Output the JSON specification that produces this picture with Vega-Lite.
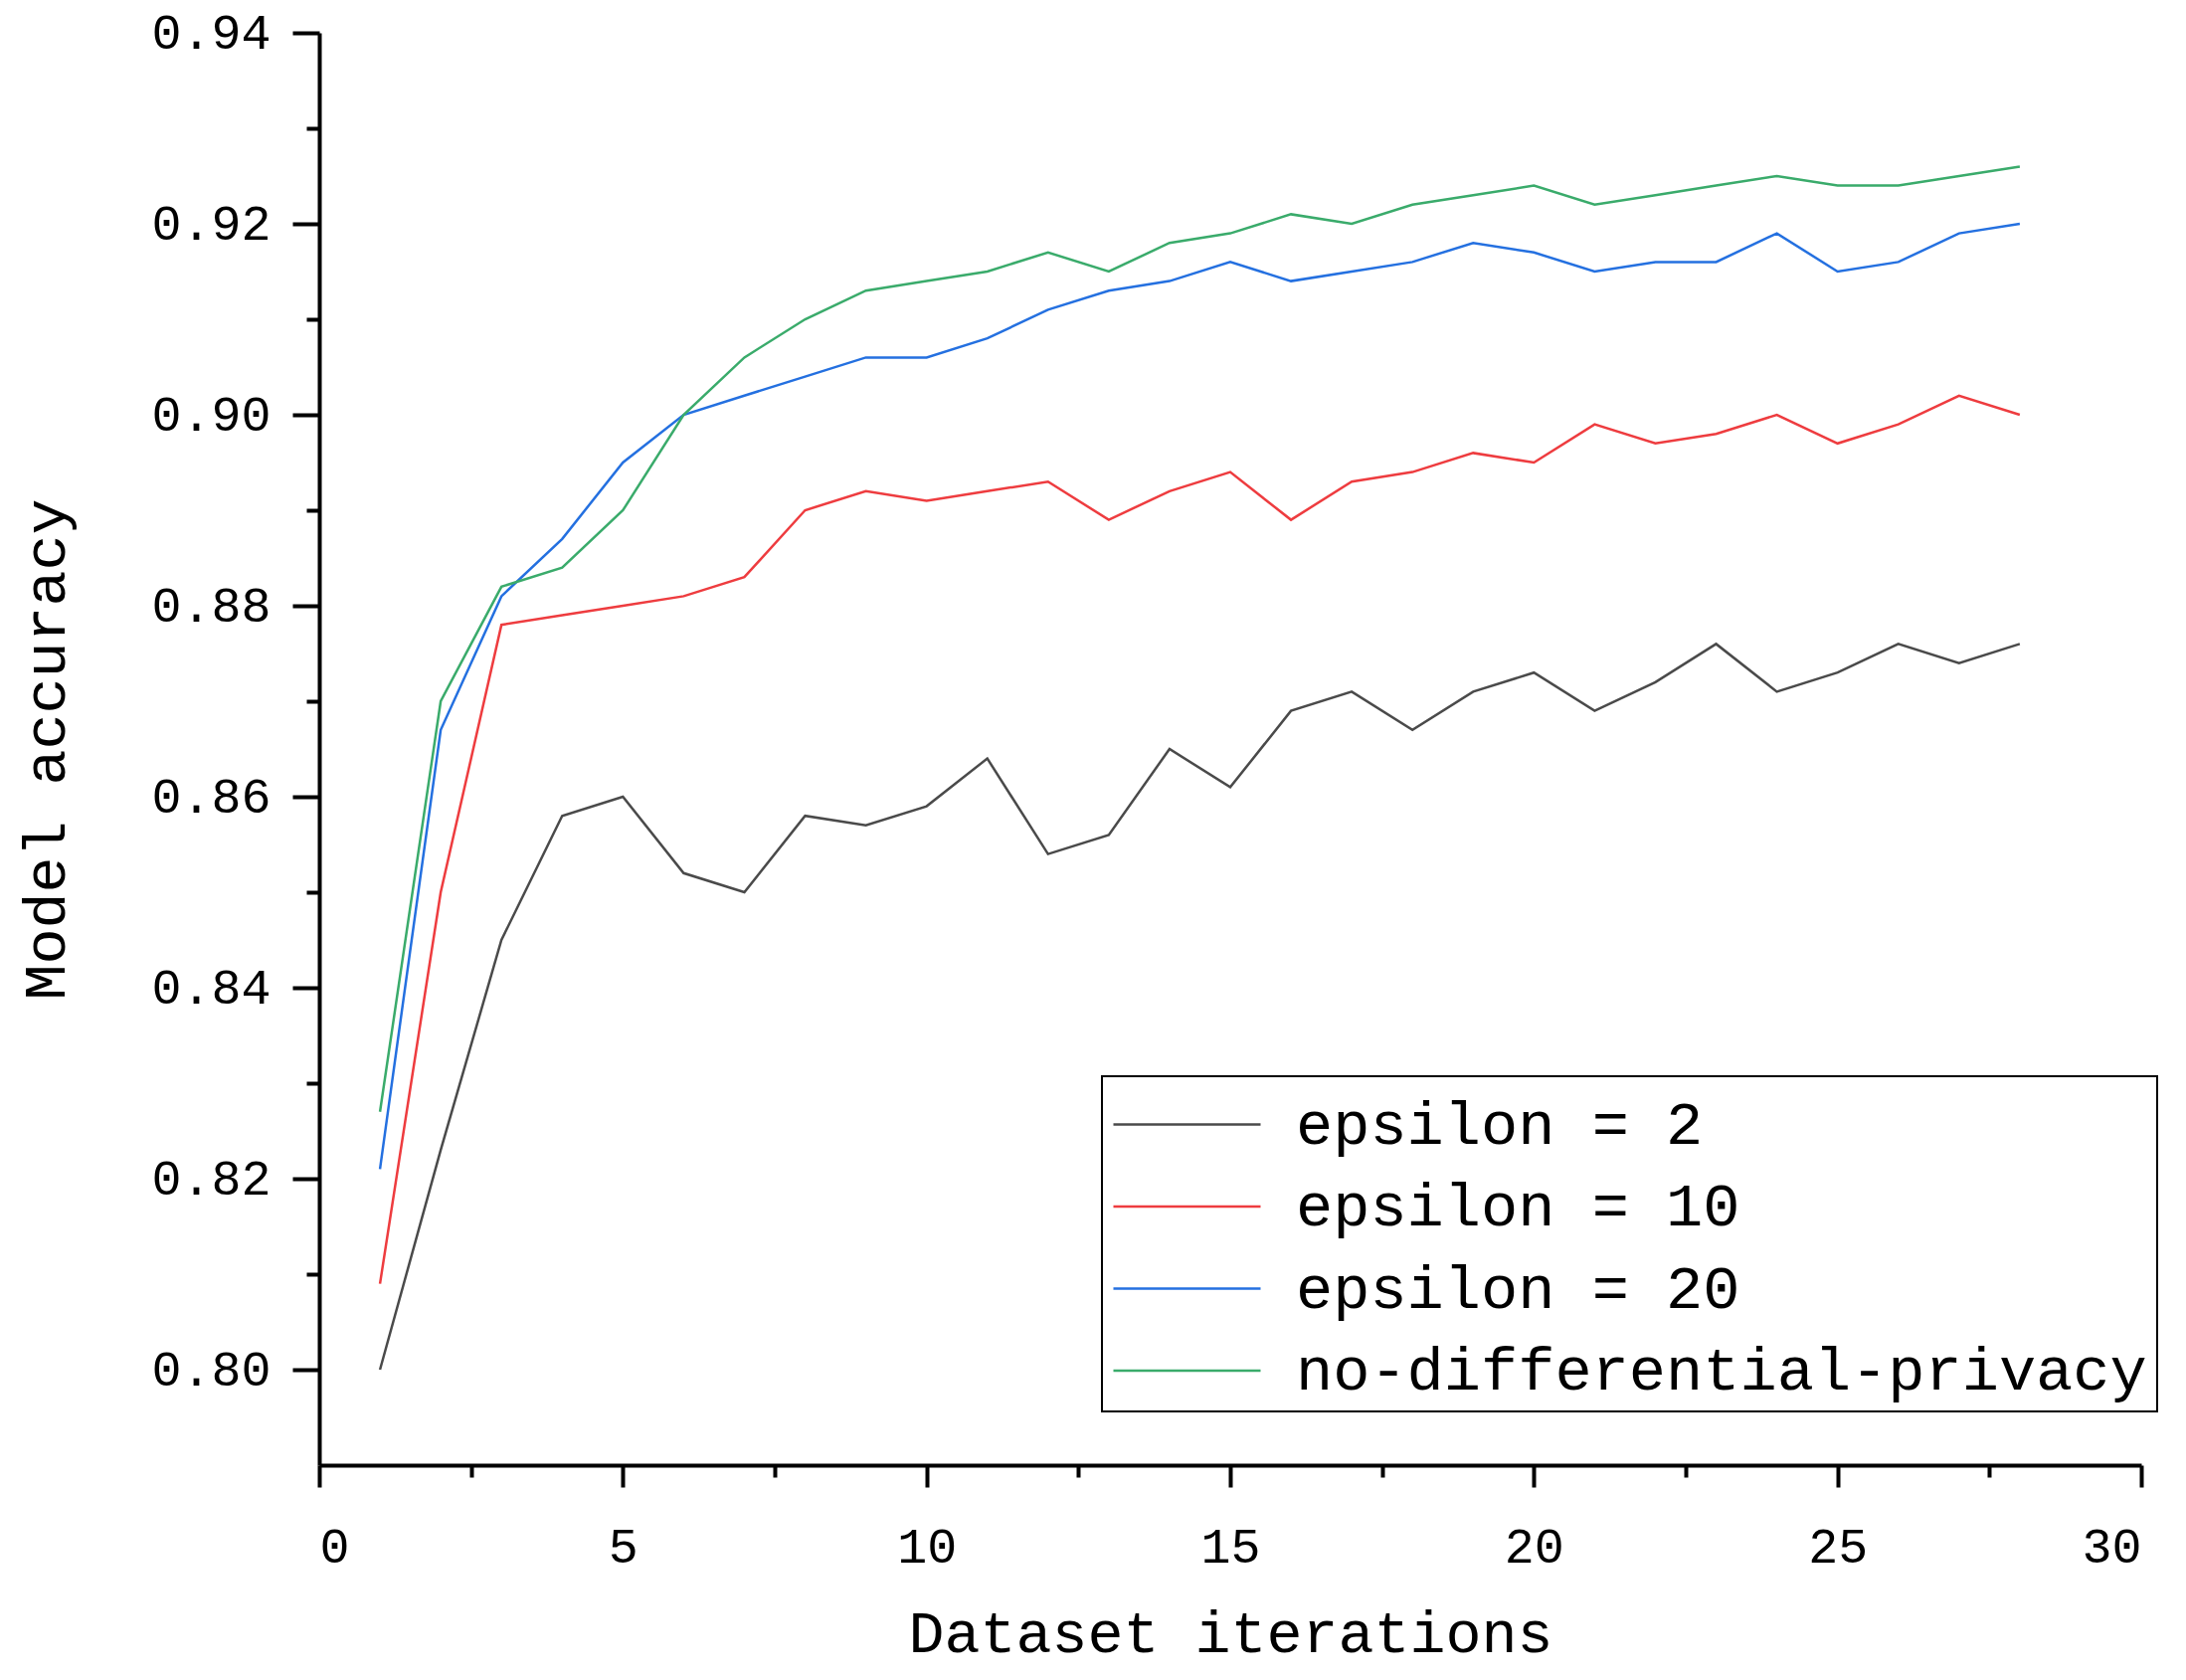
{
  "$schema": "https://vega.github.io/schema/vega-lite/v6.json",
  "width": 1832,
  "height": 1440,
  "padding": {"left": 16, "top": 8, "right": 0, "bottom": 0},
  "background": "white",
  "data": {
    "values": [
      {"iter": 1, "series": "epsilon = 2", "acc": 0.800},
      {"iter": 2, "series": "epsilon = 2", "acc": 0.823},
      {"iter": 3, "series": "epsilon = 2", "acc": 0.845},
      {"iter": 4, "series": "epsilon = 2", "acc": 0.858},
      {"iter": 5, "series": "epsilon = 2", "acc": 0.860},
      {"iter": 6, "series": "epsilon = 2", "acc": 0.852},
      {"iter": 7, "series": "epsilon = 2", "acc": 0.850},
      {"iter": 8, "series": "epsilon = 2", "acc": 0.858},
      {"iter": 9, "series": "epsilon = 2", "acc": 0.857},
      {"iter": 10, "series": "epsilon = 2", "acc": 0.859},
      {"iter": 11, "series": "epsilon = 2", "acc": 0.864},
      {"iter": 12, "series": "epsilon = 2", "acc": 0.854},
      {"iter": 13, "series": "epsilon = 2", "acc": 0.856},
      {"iter": 14, "series": "epsilon = 2", "acc": 0.865},
      {"iter": 15, "series": "epsilon = 2", "acc": 0.861},
      {"iter": 16, "series": "epsilon = 2", "acc": 0.869},
      {"iter": 17, "series": "epsilon = 2", "acc": 0.871},
      {"iter": 18, "series": "epsilon = 2", "acc": 0.867},
      {"iter": 19, "series": "epsilon = 2", "acc": 0.871},
      {"iter": 20, "series": "epsilon = 2", "acc": 0.873},
      {"iter": 21, "series": "epsilon = 2", "acc": 0.869},
      {"iter": 22, "series": "epsilon = 2", "acc": 0.872},
      {"iter": 23, "series": "epsilon = 2", "acc": 0.876},
      {"iter": 24, "series": "epsilon = 2", "acc": 0.871},
      {"iter": 25, "series": "epsilon = 2", "acc": 0.873},
      {"iter": 26, "series": "epsilon = 2", "acc": 0.876},
      {"iter": 27, "series": "epsilon = 2", "acc": 0.874},
      {"iter": 28, "series": "epsilon = 2", "acc": 0.876},
      {"iter": 1, "series": "epsilon = 10", "acc": 0.809},
      {"iter": 2, "series": "epsilon = 10", "acc": 0.850},
      {"iter": 3, "series": "epsilon = 10", "acc": 0.878},
      {"iter": 4, "series": "epsilon = 10", "acc": 0.879},
      {"iter": 5, "series": "epsilon = 10", "acc": 0.880},
      {"iter": 6, "series": "epsilon = 10", "acc": 0.881},
      {"iter": 7, "series": "epsilon = 10", "acc": 0.883},
      {"iter": 8, "series": "epsilon = 10", "acc": 0.890},
      {"iter": 9, "series": "epsilon = 10", "acc": 0.892},
      {"iter": 10, "series": "epsilon = 10", "acc": 0.891},
      {"iter": 11, "series": "epsilon = 10", "acc": 0.892},
      {"iter": 12, "series": "epsilon = 10", "acc": 0.893},
      {"iter": 13, "series": "epsilon = 10", "acc": 0.889},
      {"iter": 14, "series": "epsilon = 10", "acc": 0.892},
      {"iter": 15, "series": "epsilon = 10", "acc": 0.894},
      {"iter": 16, "series": "epsilon = 10", "acc": 0.889},
      {"iter": 17, "series": "epsilon = 10", "acc": 0.893},
      {"iter": 18, "series": "epsilon = 10", "acc": 0.894},
      {"iter": 19, "series": "epsilon = 10", "acc": 0.896},
      {"iter": 20, "series": "epsilon = 10", "acc": 0.895},
      {"iter": 21, "series": "epsilon = 10", "acc": 0.899},
      {"iter": 22, "series": "epsilon = 10", "acc": 0.897},
      {"iter": 23, "series": "epsilon = 10", "acc": 0.898},
      {"iter": 24, "series": "epsilon = 10", "acc": 0.900},
      {"iter": 25, "series": "epsilon = 10", "acc": 0.897},
      {"iter": 26, "series": "epsilon = 10", "acc": 0.899},
      {"iter": 27, "series": "epsilon = 10", "acc": 0.902},
      {"iter": 28, "series": "epsilon = 10", "acc": 0.900},
      {"iter": 1, "series": "epsilon = 20", "acc": 0.821},
      {"iter": 2, "series": "epsilon = 20", "acc": 0.867},
      {"iter": 3, "series": "epsilon = 20", "acc": 0.881},
      {"iter": 4, "series": "epsilon = 20", "acc": 0.887},
      {"iter": 5, "series": "epsilon = 20", "acc": 0.895},
      {"iter": 6, "series": "epsilon = 20", "acc": 0.900},
      {"iter": 7, "series": "epsilon = 20", "acc": 0.902},
      {"iter": 8, "series": "epsilon = 20", "acc": 0.904},
      {"iter": 9, "series": "epsilon = 20", "acc": 0.906},
      {"iter": 10, "series": "epsilon = 20", "acc": 0.906},
      {"iter": 11, "series": "epsilon = 20", "acc": 0.908},
      {"iter": 12, "series": "epsilon = 20", "acc": 0.911},
      {"iter": 13, "series": "epsilon = 20", "acc": 0.913},
      {"iter": 14, "series": "epsilon = 20", "acc": 0.914},
      {"iter": 15, "series": "epsilon = 20", "acc": 0.916},
      {"iter": 16, "series": "epsilon = 20", "acc": 0.914},
      {"iter": 17, "series": "epsilon = 20", "acc": 0.915},
      {"iter": 18, "series": "epsilon = 20", "acc": 0.916},
      {"iter": 19, "series": "epsilon = 20", "acc": 0.918},
      {"iter": 20, "series": "epsilon = 20", "acc": 0.917},
      {"iter": 21, "series": "epsilon = 20", "acc": 0.915},
      {"iter": 22, "series": "epsilon = 20", "acc": 0.916},
      {"iter": 23, "series": "epsilon = 20", "acc": 0.916},
      {"iter": 24, "series": "epsilon = 20", "acc": 0.919},
      {"iter": 25, "series": "epsilon = 20", "acc": 0.915},
      {"iter": 26, "series": "epsilon = 20", "acc": 0.916},
      {"iter": 27, "series": "epsilon = 20", "acc": 0.919},
      {"iter": 28, "series": "epsilon = 20", "acc": 0.920},
      {"iter": 1, "series": "no-differential-privacy", "acc": 0.827},
      {"iter": 2, "series": "no-differential-privacy", "acc": 0.870},
      {"iter": 3, "series": "no-differential-privacy", "acc": 0.882},
      {"iter": 4, "series": "no-differential-privacy", "acc": 0.884},
      {"iter": 5, "series": "no-differential-privacy", "acc": 0.890},
      {"iter": 6, "series": "no-differential-privacy", "acc": 0.900},
      {"iter": 7, "series": "no-differential-privacy", "acc": 0.906},
      {"iter": 8, "series": "no-differential-privacy", "acc": 0.910},
      {"iter": 9, "series": "no-differential-privacy", "acc": 0.913},
      {"iter": 10, "series": "no-differential-privacy", "acc": 0.914},
      {"iter": 11, "series": "no-differential-privacy", "acc": 0.915},
      {"iter": 12, "series": "no-differential-privacy", "acc": 0.917},
      {"iter": 13, "series": "no-differential-privacy", "acc": 0.915},
      {"iter": 14, "series": "no-differential-privacy", "acc": 0.918},
      {"iter": 15, "series": "no-differential-privacy", "acc": 0.919},
      {"iter": 16, "series": "no-differential-privacy", "acc": 0.921},
      {"iter": 17, "series": "no-differential-privacy", "acc": 0.920},
      {"iter": 18, "series": "no-differential-privacy", "acc": 0.922},
      {"iter": 19, "series": "no-differential-privacy", "acc": 0.923},
      {"iter": 20, "series": "no-differential-privacy", "acc": 0.924},
      {"iter": 21, "series": "no-differential-privacy", "acc": 0.922},
      {"iter": 22, "series": "no-differential-privacy", "acc": 0.923},
      {"iter": 23, "series": "no-differential-privacy", "acc": 0.924},
      {"iter": 24, "series": "no-differential-privacy", "acc": 0.925},
      {"iter": 25, "series": "no-differential-privacy", "acc": 0.924},
      {"iter": 26, "series": "no-differential-privacy", "acc": 0.924},
      {"iter": 27, "series": "no-differential-privacy", "acc": 0.925},
      {"iter": 28, "series": "no-differential-privacy", "acc": 0.926}
    ]
  },
  "layer": [
    {
      "mark": {"type": "line", "strokeWidth": 2.5},
      "encoding": {
        "x": {
          "field": "iter",
          "type": "quantitative",
          "scale": {"domain": [0, 30], "nice": false},
          "axis": {
            "orient": "bottom",
            "values": [0, 5, 10, 15, 20, 25, 30],
            "title": "Dataset iterations",
            "tickSize": 22,
            "labelPadding": 35,
            "titlePadding": 33
          }
        },
        "y": {
          "field": "acc",
          "type": "quantitative",
          "scale": {"domain": [0.79, 0.94], "nice": false, "zero": false},
          "axis": {
            "orient": "left",
            "values": [0.80, 0.82, 0.84, 0.86, 0.88, 0.90, 0.92, 0.94],
            "format": ".2f",
            "title": "Model accuracy",
            "tickSize": 27,
            "labelPadding": 22,
            "titlePadding": 74
          }
        },
        "color": {
          "field": "series",
          "type": "nominal",
          "scale": {
            "domain": ["epsilon = 2", "epsilon = 10", "epsilon = 20", "no-differential-privacy"],
            "range": ["#4a4a4a", "#ee3c3f", "#2470e0", "#3aab6b"]
          },
          "legend": {
            "title": null,
            "orient": "none",
            "legendX": 787,
            "legendY": 1049,
            "strokeColor": "black",
            "fillColor": "white",
            "padding": 10,
            "symbolType": "M-2,0H2",
            "symbolSize": 5476,
            "symbolOffset": 37,
            "symbolStrokeWidth": 2.5,
            "labelFont": "Liberation Mono",
            "labelFontSize": 62,
            "labelColor": "black",
            "labelOffset": 71,
            "labelLimit": 2000,
            "rowPadding": 12.5
          }
        }
      }
    },
    {
      "mark": {"type": "line", "strokeOpacity": 0},
      "encoding": {
        "x": {
          "field": "iter",
          "type": "quantitative",
          "axis": {
            "orient": "bottom",
            "values": [2.5, 7.5, 12.5, 17.5, 22.5, 27.5],
            "labels": false,
            "domain": false,
            "title": null,
            "tickSize": 12
          }
        },
        "y": {
          "field": "acc",
          "type": "quantitative",
          "axis": {
            "orient": "left",
            "values": [0.81, 0.83, 0.85, 0.87, 0.89, 0.91, 0.93],
            "labels": false,
            "domain": false,
            "title": null,
            "tickSize": 13
          }
        },
        "detail": {"field": "series", "type": "nominal"}
      }
    }
  ],
  "resolve": {"axis": {"x": "independent", "y": "independent"}},
  "config": {
    "view": {"stroke": null},
    "legend": {"strokeWidth": 2},
    "axis": {
      "grid": false,
      "domainColor": "black",
      "domainWidth": 4,
      "tickColor": "black",
      "tickWidth": 4,
      "labelFont": "Liberation Mono",
      "labelFontSize": 50,
      "labelColor": "black",
      "titleFont": "Liberation Mono",
      "titleFontSize": 60,
      "titleFontWeight": "normal",
      "titleColor": "black"
    }
  }
}
